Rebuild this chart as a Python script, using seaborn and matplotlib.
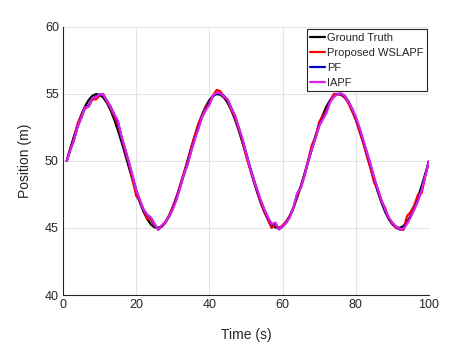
import pandas as pd
import matplotlib
matplotlib.use("Agg")
import matplotlib.pyplot as plt
import seaborn as sns

# Data
time_s = list(range(1, 101))

ground_truth = [
    50.00, 50.95, 51.86, 52.70, 53.45, 54.07, 54.55, 54.86, 54.99, 54.95,
    54.73, 54.33, 53.78, 53.09, 52.29, 51.41, 50.48, 49.52, 48.59, 47.71,
    46.91, 46.22, 45.67, 45.27, 45.05, 45.01, 45.14, 45.45, 45.93, 46.55,
    47.30, 48.14, 49.05, 50.00, 50.95, 51.86, 52.70, 53.45, 54.07, 54.55,
    54.86, 54.99, 54.95, 54.73, 54.33, 53.78, 53.09, 52.29, 51.41, 50.48,
    49.52, 48.59, 47.71, 46.91, 46.22, 45.67, 45.27, 45.05, 45.01, 45.14,
    45.45, 45.93, 46.55, 47.30, 48.14, 49.05, 50.00, 50.95, 51.86, 52.70,
    53.45, 54.07, 54.55, 54.86, 54.99, 54.95, 54.73, 54.33, 53.78, 53.09,
    52.29, 51.41, 50.48, 49.52, 48.59, 47.71, 46.91, 46.22, 45.67, 45.27,
    45.05, 45.01, 45.14, 45.45, 45.93, 46.55, 47.30, 48.14, 49.05, 50.00,
]

wslapf = [
    50.00, 50.90, 51.70, 52.80, 53.40, 53.90, 54.10, 54.60, 54.60, 54.85,
    55.00, 54.40, 53.95, 53.30, 52.70, 51.70, 50.70, 49.80, 48.60, 47.40,
    47.00, 46.30, 45.70, 45.60, 45.20, 44.90, 45.10, 45.40, 45.95, 46.60,
    47.30, 48.20, 49.10, 49.90, 51.00, 51.90, 52.80, 53.40, 54.00, 54.40,
    54.90, 55.30, 55.20, 54.80, 54.50, 53.80, 53.20, 52.40, 51.50, 50.40,
    49.50, 48.60, 47.80, 46.90, 46.20, 45.60, 45.00, 45.30, 44.95, 45.20,
    45.50, 45.90, 46.50, 47.40, 48.10, 49.00, 50.10, 51.20, 51.80, 52.90,
    53.40, 53.80, 54.50, 55.00, 55.00, 54.95, 54.80, 54.30, 53.70, 53.10,
    52.20, 51.40, 50.40, 49.50, 48.40, 47.90, 47.00, 46.50, 45.70, 45.30,
    45.00, 44.90, 44.85, 45.90, 46.20, 46.70, 47.50, 47.60, 48.90, 50.00,
]

pf = [
    50.00, 50.85, 51.60, 52.55, 53.25, 54.00, 54.10, 54.65, 54.80, 54.95,
    54.90, 54.50, 54.05, 53.45, 52.90, 51.75, 50.85, 49.90, 48.85, 47.85,
    47.05, 46.35, 45.95, 45.75, 45.30, 44.90, 45.15, 45.45, 45.85, 46.45,
    47.20, 48.05, 48.95, 49.75, 50.75, 51.65, 52.50, 53.30, 53.85, 54.30,
    54.85, 55.05, 55.00, 54.85, 54.55, 53.95, 53.35, 52.50, 51.60, 50.65,
    49.65, 48.75, 47.85, 47.05, 46.35, 45.75, 45.25, 45.35, 44.90, 45.10,
    45.40, 45.85, 46.55, 47.55, 48.05, 48.95, 49.95, 50.90, 51.75, 52.65,
    53.20, 53.70, 54.45, 54.80, 55.00, 55.00, 54.85, 54.45, 53.90, 53.25,
    52.45, 51.55, 50.65, 49.75, 48.75, 47.85, 47.05, 46.35, 45.75, 45.35,
    45.10, 44.90, 44.95, 45.40, 45.85, 46.45, 47.10, 47.85, 48.95, 50.00,
]

iapf = [
    50.00, 50.80, 51.55, 52.60, 53.20, 54.00, 54.05, 54.70, 54.75, 55.00,
    54.95, 54.50, 54.00, 53.50, 53.00, 51.80, 50.90, 49.90, 48.90, 47.80,
    47.10, 46.40, 46.00, 45.80, 45.30, 44.85, 45.20, 45.45, 45.90, 46.40,
    47.10, 48.00, 49.00, 49.70, 50.70, 51.60, 52.40, 53.30, 53.80, 54.20,
    54.90, 55.10, 55.05, 54.80, 54.60, 53.90, 53.40, 52.50, 51.70, 50.60,
    49.60, 48.70, 47.90, 47.10, 46.40, 45.80, 45.30, 45.40, 44.90, 45.10,
    45.40, 45.80, 46.60, 47.60, 48.00, 48.90, 50.00, 50.90, 51.70, 52.60,
    53.10, 53.60, 54.40, 54.80, 55.00, 55.05, 54.85, 54.40, 53.90, 53.30,
    52.50, 51.60, 50.70, 49.80, 48.80, 47.90, 47.10, 46.40, 45.80, 45.40,
    45.10, 44.95, 44.90, 45.30, 45.80, 46.40, 47.00, 47.80, 48.90, 50.00,
]

series_names = ['Ground Truth', 'Proposed WSLAPF', 'PF', 'IAPF']
series_values = [ground_truth, wslapf, pf, iapf]
series_colors = ['black', 'red', '#0000cc', '#e020e0']

# Build long DataFrame
df = pd.concat(
    [pd.DataFrame({'Time (s)': time_s, 'Position (m)': vals, 'Method': name})
     for name, vals in zip(series_names, series_values)],
    ignore_index=True,
)

sns.set_style("whitegrid")
plt.rcParams['font.family'] = ['Liberation Sans', 'DejaVu Sans']

fig = plt.figure(figsize=(4.74, 3.55), dpi=100)
ax = fig.add_axes([0.133, 0.169, 0.772, 0.755])

sns.lineplot(data=df, x='Time (s)', y='Position (m)', hue='Method',
             hue_order=series_names, palette=series_colors, linewidth=1.6,
             ax=ax, estimator=None, sort=False)

ax.set_xlim(0, 100)
ax.set_ylim(40, 60)
ax.set_xticks([0, 20, 40, 60, 80, 100])
ax.set_yticks([40, 45, 50, 55, 60])
ax.grid(True, color='#e3e3e3', linewidth=0.8)
ax.tick_params(axis='both', direction='in', length=3, labelsize=9,
               colors='#262626', pad=3)
ax.set_xlabel('Time (s)', fontsize=10, color='#262626', labelpad=12)
ax.set_ylabel('Position (m)', fontsize=10, color='#262626', labelpad=9)

for side in ['top', 'right']:
    ax.spines[side].set_visible(False)
for side in ['left', 'bottom']:
    ax.spines[side].set_color('#262626')
    ax.spines[side].set_linewidth(0.8)

leg = ax.legend(loc='upper right', fontsize=8, frameon=True, fancybox=False,
                handlelength=1.3, handletextpad=0.2, borderpad=0.3,
                labelspacing=0.45, borderaxespad=0.2)
leg.get_frame().set_edgecolor('#262626')
leg.get_frame().set_linewidth(0.8)
leg.get_frame().set_alpha(1)

plt.savefig('out.png', dpi=100)
